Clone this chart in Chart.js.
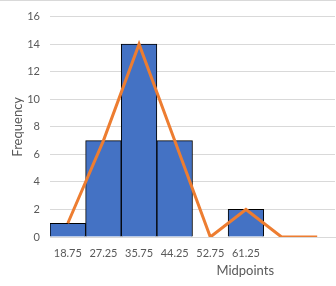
<!DOCTYPE html>
<html>
<head>
<meta charset="utf-8">
<script src="https://cdn.jsdelivr.net/npm/chart.js@4"></script>
<style>
    html, body { margin: 0; padding: 0; background: #fff; }
    #wrap { width: 336px; height: 286px; }
</style>
</head>
<body>
<div id="wrap"><canvas id="chart" width="336" height="286"></canvas></div>
<script>
const midpoints = ["18.75", "27.25", "35.75", "44.25", "52.75", "61.25", "", ""];
const frequency = [1, 7, 14, 7, 0, 2, 0, 0];
const polygon = [1, 7, 14, 7, 0, 2, 0, 0];
const yTicks = [0, 2, 4, 6, 8, 10, 12, 14, 16];

const FONT = "Lato, 'Open Sans', sans-serif";
const GREY = "#595959";

// top frame line and the off-centre x title, like the original
const extras = {
    id: "extras",
    afterDraw(chart) {
        const ctx = chart.ctx;
        const area = chart.chartArea;
        ctx.save();
        ctx.strokeStyle = "#d9d9d9";
        ctx.lineWidth = 1;
        ctx.beginPath();
        ctx.moveTo(0, 0.5);
        ctx.lineTo(chart.width, 0.5);
        ctx.stroke();
        ctx.fillStyle = GREY;
        ctx.font = "13px " + FONT;
        ctx.textAlign = "center";
        ctx.textBaseline = "middle";
        ctx.fillText("Midpoints", area.left + (area.right - area.left) * 0.685, 271);
        ctx.restore();
    },
};

new Chart(document.getElementById("chart"), {
    type: "bar",
    data: {
        labels: midpoints,
        datasets: [
            {
                type: "line",
                data: polygon,
                borderColor: "#ED7D31",
                borderWidth: 3,
                pointRadius: 0,
                tension: 0,
                order: 0,
            },
            {
                data: frequency,
                backgroundColor: "#4472C4",
                borderColor: "#000000",
                borderWidth: 1,
                barPercentage: 1,
                categoryPercentage: 1,
                order: 1,
            },
        ],
    },
    options: {
        responsive: false,
        animation: false,
        layout: { padding: { top: 15, right: 1, left: 0, bottom: 0 } },
        plugins: {
            legend: { display: false },
            tooltip: { enabled: false },
        },
        scales: {
            x: {
                grid: { display: false, drawTicks: false },
                border: { color: "#d9d9d9" },
                ticks: { color: GREY, font: { family: FONT, size: 11 }, padding: 10, maxRotation: 0 },
                afterFit: (s) => { s.height = 49; },
            },
            y: {
                min: 0,
                max: 16,
                afterBuildTicks: (s) => { s.ticks = yTicks.map((v) => ({ value: v })); },
                grid: { color: "#d9d9d9", drawTicks: false },
                border: { display: false },
                ticks: { color: GREY, font: { family: FONT, size: 11 }, padding: 10 },
                title: {
                    display: true,
                    text: "Frequency",
                    color: GREY,
                    font: { family: FONT, size: 13 },
                    padding: { top: 10, bottom: 0 },
                },
                afterFit: (s) => { s.width = 50; },
            },
        },
    },
    plugins: [extras],
});
</script>
</body>
</html>
